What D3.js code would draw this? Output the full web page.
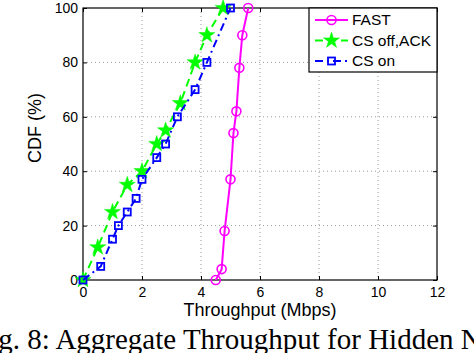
<!DOCTYPE html>
<html>
<head>
<meta charset="utf-8">
<script src="https://cdn.jsdelivr.net/npm/d3@7"></script>
<style>
  body { margin: 0; background: #fff; }
  svg { display: block; }
  .tick text { font-family: "Liberation Sans", Arial, sans-serif; font-size: 14px; fill: #000; }
</style>
</head>
<body>
<div id="chart"></div>
<script>
// DATA
var xTicks = [0, 2, 4, 6, 8, 10, 12];
var yTicks = [0, 20, 40, 60, 80, 100];

var fastX = [4.5, 4.7, 4.8, 5.0, 5.1, 5.2, 5.3, 5.4, 5.6];
var fastY = [0, 4, 18, 37, 54, 62, 78, 90, 100];

var csOffX = [0, 0.5, 1.0, 1.5, 2.0, 2.5, 2.8, 3.3, 3.8, 4.2, 4.75];
var csOffY = [0, 12, 25, 35, 40, 50, 55, 65, 80, 90, 100];

var csOnX = [0, 0.6, 1.0, 1.2, 1.5, 1.8, 2.0, 2.5, 2.8, 3.2, 3.8, 4.2, 5.0];
var csOnY = [0, 5, 15, 20, 25, 30, 37, 45, 50, 60, 70, 80, 100];

var seriesNames = ['FAST', 'CS off,ACK', 'CS on'];

// BOUNDS
var width = 474, height = 353;
var margin = {top: 8, right: 37, bottom: 73, left: 83},
	innerWidth = width - margin.left - margin.right,
	innerHeight = height - margin.top - margin.bottom;

// SCALE
var xScale = d3.scaleLinear().domain([0, 12]).range([0, innerWidth]);
var yScale = d3.scaleLinear().domain([0, 100]).range([innerHeight, 0]);

var svg = d3.select('#chart').append('svg')
	.attr('width', width)
	.attr('height', height);

var plot = svg.append('g')
	.attr('transform', 'translate(' + margin.left + ',' + margin.top + ')');

// grid (dotted)
plot.append('g').selectAll('line')
	.data(xTicks.slice(1, -1))
	.enter().append('line')
	.attr('x1', function(d) { return xScale(d); })
	.attr('x2', function(d) { return xScale(d); })
	.attr('y1', 0).attr('y2', innerHeight)
	.attr('stroke', '#9a9a9a').attr('stroke-width', 1)
	.attr('stroke-dasharray', '1,3');
plot.append('g').selectAll('line')
	.data(yTicks.slice(1, -1))
	.enter().append('line')
	.attr('y1', function(d) { return yScale(d); })
	.attr('y2', function(d) { return yScale(d); })
	.attr('x1', 0).attr('x2', innerWidth)
	.attr('stroke', '#9a9a9a').attr('stroke-width', 1)
	.attr('stroke-dasharray', '1,3');

// AXES (ticks point inward)
var xAxis = d3.axisBottom(xScale).tickValues(xTicks).tickSize(-4).tickPadding(7).tickFormat(d3.format('d'));
var yAxis = d3.axisLeft(yScale).tickValues(yTicks).tickSize(-4).tickPadding(5).tickFormat(d3.format('d'));

plot.append('g')
	.attr('transform', 'translate(0,' + innerHeight + ')')
	.call(xAxis)
	.call(function(g) { g.select('.domain').remove(); });
plot.append('g')
	.call(yAxis)
	.call(function(g) { g.select('.domain').remove(); });

// top / right ticks
plot.append('g')
	.call(d3.axisTop(xScale).tickValues(xTicks).tickSize(-4).tickFormat(''))
	.call(function(g) { g.select('.domain').remove(); });
plot.append('g')
	.attr('transform', 'translate(' + innerWidth + ',0)')
	.call(d3.axisRight(yScale).tickValues(yTicks).tickSize(-4).tickFormat(''))
	.call(function(g) { g.select('.domain').remove(); });

plot.selectAll('.tick line').attr('stroke', '#000');

// box
plot.append('rect')
	.attr('width', innerWidth).attr('height', innerHeight)
	.attr('fill', 'none').attr('stroke', '#000').attr('stroke-width', 1.2);

// LINES
function zip(xs, ys) {
	return xs.map(function(x, i) { return {x: x, y: ys[i]}; });
}
var line = d3.line()
	.x(function(d) { return xScale(d.x); })
	.y(function(d) { return yScale(d.y); });

var series = [
	{name: seriesNames[0], data: zip(fastX, fastY), color: '#ff00ff', dash: null, marker: 'circle'},
	{name: seriesNames[1], data: zip(csOffX, csOffY), color: '#00ff00', dash: '8,5', marker: 'star'},
	{name: seriesNames[2], data: zip(csOnX, csOnY), color: '#0000ff', dash: '8,4,2,4', marker: 'square'}
];

function drawMarker(g, type, color) {
	if (type == 'circle') {
		g.append('circle').attr('r', 4.5)
			.attr('fill', 'none').attr('stroke', color).attr('stroke-width', 1.6);
	} else if (type == 'star') {
		g.append('path').attr('d', d3.symbol().type(d3.symbolStar).size(80)())
			.attr('fill', color).attr('stroke', color).attr('stroke-width', 0.5);
	} else {
		g.append('rect').attr('x', -3.5).attr('y', -3.5).attr('width', 7).attr('height', 7)
			.attr('fill', 'none').attr('stroke', color).attr('stroke-width', 1.8);
	}
}

series.forEach(function(s) {
	plot.append('path')
		.attr('d', line(s.data))
		.attr('fill', 'none')
		.attr('stroke', s.color)
		.attr('stroke-width', 2)
		.attr('stroke-dasharray', s.dash);
	s.data.forEach(function(d) {
		var g = plot.append('g')
			.attr('transform', 'translate(' + xScale(d.x) + ',' + yScale(d.y) + ')');
		drawMarker(g, s.marker, s.color);
	});
});

// LEGEND
var legend = plot.append('g')
	.attr('transform', 'translate(' + (innerWidth - 128) + ',0)');
legend.append('rect')
	.attr('width', 128).attr('height', 64)
	.attr('fill', '#fff').attr('stroke', '#000').attr('stroke-width', 1.2);
series.forEach(function(s, i) {
	var y = 12 + i * 20.5;
	legend.append('line')
		.attr('x1', 6).attr('x2', 39).attr('y1', y).attr('y2', y)
		.attr('stroke', s.color).attr('stroke-width', 2)
		.attr('stroke-dasharray', s.dash);
	var m = legend.append('g').attr('transform', 'translate(22.5,' + y + ')');
	drawMarker(m, s.marker, s.color);
	legend.append('text')
		.attr('x', 43).attr('y', y).attr('dy', '0.35em')
		.style('font-family', '"Liberation Sans", Arial, sans-serif')
		.style('font-size', '15.5px')
		.text(s.name);
});

// AXIS LABELS
svg.append('text')
	.attr('x', margin.left + innerWidth / 2).attr('y', 316)
	.attr('text-anchor', 'middle')
	.style('font-family', '"Liberation Sans", Arial, sans-serif')
	.style('font-size', '18px')
	.text('Throughput (Mbps)');
svg.append('text')
	.attr('transform', 'translate(41,128) rotate(-90)')
	.attr('text-anchor', 'middle')
	.style('font-family', '"Liberation Sans", Arial, sans-serif')
	.style('font-size', '18px')
	.text('CDF (%)');

// CAPTION (cut by the page edges, as in the source figure)
svg.append('text')
	.attr('x', -26).attr('y', 349)
	.style('font-family', '"Liberation Serif", "DejaVu Serif", serif')
	.style('font-size', '29px')
	.text('Fig. 8: Aggregate Throughput for Hidden Nodes');
</script>
</body>
</html>
